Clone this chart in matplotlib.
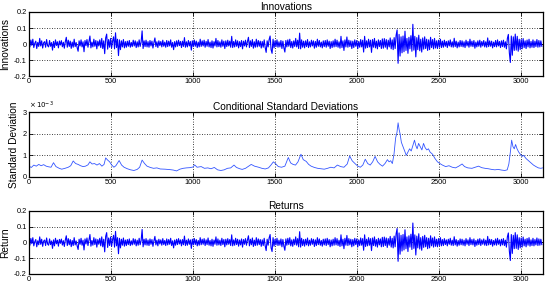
import numpy as np
import matplotlib
matplotlib.use("Agg")
import matplotlib.pyplot as plt

plt.rcParams['font.family'] = ['Liberation Sans', 'DejaVu Sans']

# innovations, one value every 6 observations, in units of 1e-3
innov_step = 6
innov_milli = [
    12, -18, 25, -8, 30, -22, 5, 18, -28, 10, -15, 35, -12, 20, -25, 8, 15, -20, 28, -10,
    -18, 22, -14, 9, -38, 16, -22, 26, -9, 14, -24, 19, -6, 21, -17, 11, -26, 15, 42, -20,
    24, -15, 18, -27, 12, -20, 30, -16, 9, -22, -45, 20, -12, 26, -18, 14, -48, 22, -10, 28,
    -20, 16, 50, -24, 12, -18, 30, -14, 22, -30, 18, -12, 26, -22, 35, -28, 20, -60, 38, 62,
    -32, 28, -20, 35, -25, 18, 45, -30, 70, -22, 30, -72, 26, -35, 20, -18, 28, -24, 15, -20,
    18, -14, 22, -20, 10, -16, 24, -12, 20, -22, 14, -18, 26, -15, 12, 82, -28, 20, -16, 24,
    -18, 15, -20, 22, -12, 18, -25, 10, 38, -16, 14, -22, 20, -10, 16, -18, 24, -14, 12, -20,
    22, -16, 18, -12, 26, -20, 10, -35, 15, -18, 20, -14, 24, -10, 16, -22, 18, -15, 40, -20,
    14, -18, 22, -12, 16, -38, 20, -16, 25, -14, 18, -22, 12, -18, 30, -15, 20, -12, 24, -20,
    16, -14, 28, -18, 12, -22, 20, -25, 15, -12, 35, -18, 22, -16, 14, -20, 26, -14, 18, -28,
    20, -16, 24, -12, 18, -20, 48, -22, 16, -18, 26, -14, 20, -24, 15, -16, 22, -30, 18, -12,
    24, -18, 16, 42, -22, 20, -15, 28, -26, 14, -20, 30, -18, 22, -14, 18, -25, 16, -20, 26,
    -22, -52, 20, -18, 28, 50, -35, -58, 30, -24, 20, -16, 26, -20, 14, -18, 22, -28, 18, -24,
    -50, 22, -18, 26, -14, 30, -22, 16, -25, 20, -15, 35, -18, 24, -28, 68, -30, 26, -20, 18,
    -24, 20, -16, 28, -22, 14, -18, 24, -12, 20, -26, 16, -20, 30, -14, 22, -18, 12, -24, 20,
    -16, 22, -20, 26, -14, 18, -28, 15, -22, 20, -18, 30, -16, 24, -20, 14, -26, 48, -22, 20,
    -40, 26, -18, 44, -20, 24, -16, 20, -28, 18, -22, 26, -14, 22, -30, 16, -20, 28, -18, 24,
    -50, 48, -26, 20, -22, 30, -18, 24, -52, 28, -20, 35, -24, 18, -30, 26, -16, 22, -28, 32,
    -26, 34, -20, 28, -32, 24, -18, 38, -30, 26, -35, 40, -28, 55, 88, -120, 60, -75, 45, -55,
    50, -48, 80, -40, 35, -58, 42, -30, 52, -45, 123, -38, 48, -80, 40, -35, 55, -42, 30, -50,
    38, -32, 45, -28, 30, -40, 26, -35, 42, -22, 28, -30, 35, -25, 20, -28, 24, -20, 30, -22,
    18, -20, 24, -14, 16, -22, 20, -12, 26, -18, 14, -20, 36, -16, 18, -24, 12, -18, 22, -15,
    20, -18, 14, -22, 24, -12, 16, -20, 30, -14, 18, -16, 22, -26, 12, -18, 20, -14, 24, -20,
    16, -12, 22, -18, 14, -20, 38, -16, 20, -14, 18, -24, 12, -16, 22, -18, 26, -12, 16, -22,
    20, -16, 24, -20, 14, -30, 35, 60, -55, -115, 50, -70, 45, -40, 62, -38, 48, -45, 30, -35,
    28, -30, 34, -22, 20, -28, 25, -18, 30, -24, 16, -20, 26, -22, 18, -16, 28, -20, 22, -18,
    20, -14,
]

# conditional standard deviations (x 1e-3)
sd_x = [0, 15, 30, 45, 60, 75, 90, 105, 120, 135, 150, 165, 185, 200, 220, 240, 255, 270, 285, 300,
        315, 330, 345, 360, 372, 385, 400, 415, 430, 445, 458, 468, 480, 492, 505, 518, 530, 550, 565, 580,
        600, 620, 640, 660, 675, 690, 705, 720, 740, 760, 780, 800, 830, 860, 880, 900, 920, 940, 960, 980,
        1000, 1010, 1025, 1050, 1070, 1090, 1110, 1130, 1150, 1170, 1190, 1210, 1230, 1250, 1265, 1285, 1300, 1320, 1340, 1355,
        1375, 1400, 1420, 1440, 1460, 1475, 1490, 1505, 1520, 1540, 1560, 1581, 1595, 1610, 1625, 1640, 1658, 1672, 1690, 1705,
        1720, 1740, 1760, 1780, 1800, 1820, 1840, 1860, 1880, 1900, 1920, 1940, 1955, 1970, 1990, 2005, 2020, 2035, 2050, 2065,
        2080, 2095, 2110, 2125, 2140, 2155, 2170, 2185, 2195, 2205, 2215, 2225, 2235, 2243, 2250, 2256, 2262, 2270, 2280, 2290,
        2300, 2310, 2320, 2330, 2340, 2350, 2358, 2366, 2375, 2385, 2395, 2405, 2415, 2425, 2435, 2445, 2460, 2475, 2490, 2505,
        2520, 2540, 2560, 2580, 2600, 2620, 2640, 2655, 2675, 2700, 2720, 2740, 2760, 2780, 2800, 2820, 2840, 2860, 2880, 2900,
        2915, 2925, 2935, 2942, 2950, 2958, 2966, 2975, 2985, 2995, 3005, 3015, 3030, 3045, 3060, 3075, 3090, 3105, 3120, 3130]
sd_val = [0.50, 0.44, 0.55, 0.50, 0.58, 0.52, 0.57, 0.50, 0.47, 0.45, 0.66, 0.48, 0.40, 0.36, 0.40, 0.45, 0.52, 0.74, 0.62, 0.58,
          0.52, 0.48, 0.50, 0.56, 0.70, 0.60, 0.62, 0.55, 0.62, 0.50, 0.58, 0.88, 0.78, 0.70, 0.55, 0.45, 0.52, 0.76, 0.55, 0.45,
          0.38, 0.33, 0.30, 0.35, 0.45, 0.78, 0.62, 0.50, 0.44, 0.40, 0.42, 0.37, 0.36, 0.34, 0.32, 0.28, 0.36, 0.40, 0.42, 0.43,
          0.46, 0.56, 0.45, 0.48, 0.40, 0.42, 0.38, 0.44, 0.33, 0.30, 0.33, 0.40, 0.42, 0.55, 0.44, 0.38, 0.35, 0.40, 0.50, 0.58,
          0.50, 0.45, 0.40, 0.37, 0.42, 0.55, 0.70, 0.60, 0.48, 0.45, 0.50, 0.90, 0.65, 0.58, 0.55, 0.70, 1.05, 0.80, 0.72, 0.58,
          0.50, 0.44, 0.40, 0.38, 0.36, 0.40, 0.45, 0.42, 0.55, 0.48, 0.45, 0.60, 0.97, 0.75, 0.60, 0.50, 0.45, 0.55, 0.82, 0.62,
          0.55, 0.70, 0.95, 0.70, 0.58, 0.50, 0.62, 0.80, 0.70, 0.75, 0.62, 1.05, 1.80, 2.05, 2.50, 2.20, 2.00, 1.60, 1.40, 1.20,
          1.00, 1.15, 1.30, 1.20, 1.45, 1.70, 1.45, 1.30, 1.55, 1.40, 1.25, 1.55, 1.35, 1.25, 1.30, 1.15, 1.05, 0.85, 0.70, 0.62,
          0.55, 0.48, 0.52, 0.45, 0.42, 0.50, 0.60, 0.48, 0.42, 0.40, 0.45, 0.50, 0.43, 0.40, 0.38, 0.35, 0.33, 0.35, 0.32, 0.30,
          0.33, 0.60, 1.20, 1.70, 1.40, 1.30, 1.50, 1.30, 1.15, 1.05, 0.95, 1.00, 0.85, 0.75, 0.65, 0.55, 0.48, 0.42, 0.40, 0.42]

xticks = [0, 500, 1000, 1500, 2000, 2500, 3000]
ret_ticks = [-0.2, -0.1, 0, 0.1, 0.2]
ret_labels = ['-0.2', '-0.1', '0', '0.1', '0.2']
sd_ticks = [0, 1, 2, 3]

innov = np.array(innov_milli) / 1000.0
innov_x = np.arange(len(innov)) * innov_step
# returns = constant mean + innovations; the fitted constant is ~0 at this scale
returns = innov.copy()

fig = plt.figure(figsize=(5.45, 2.85), dpi=100)
ax1 = fig.add_axes([0.053, 0.733, 0.943, 0.225])
ax2 = fig.add_axes([0.053, 0.379, 0.943, 0.228])
ax3 = fig.add_axes([0.053, 0.039, 0.943, 0.221])


def style(ax, title, ylabel):
    ax.set_xlim(0, 3132)
    ax.set_xticks(xticks)
    ax.set_xticklabels([str(t) for t in xticks])
    ax.grid(True, color='black', linestyle=(0, (1, 2)), linewidth=0.6)
    ax.tick_params(direction='in', length=3, width=0.6, labelsize=5.3, pad=1.5,
                   top=True, right=True)
    for s in ax.spines.values():
        s.set_linewidth(0.9)
    ax.set_title(title, fontsize=7.3, pad=1.5)
    ax.set_ylabel(ylabel, fontsize=7.3, labelpad=3)


ax1.plot(innov_x, innov, color='#0000ff', linewidth=0.8)
ax1.set_ylim(-0.2, 0.2)
ax1.set_yticks(ret_ticks)
ax1.set_yticklabels(ret_labels)
style(ax1, 'Innovations', 'Innovations')

ax2.plot(sd_x, sd_val, color='#3355ff', linewidth=0.6)
ax2.set_ylim(0, 3)
ax2.set_yticks(sd_ticks)
ax2.set_yticklabels([str(t) for t in sd_ticks])
style(ax2, 'Conditional Standard Deviations', 'Standard Deviation')
ax2.text(0.0, 1.01, r'$\times\,10^{-3}$', transform=ax2.transAxes, fontsize=5,
         ha='left', va='bottom')

ax3.plot(innov_x, returns, color='#0000ff', linewidth=0.8)
ax3.set_ylim(-0.2, 0.2)
ax3.set_yticks(ret_ticks)
ax3.set_yticklabels(ret_labels)
style(ax3, 'Returns', 'Return')

fig.savefig('out.png', dpi=100)
